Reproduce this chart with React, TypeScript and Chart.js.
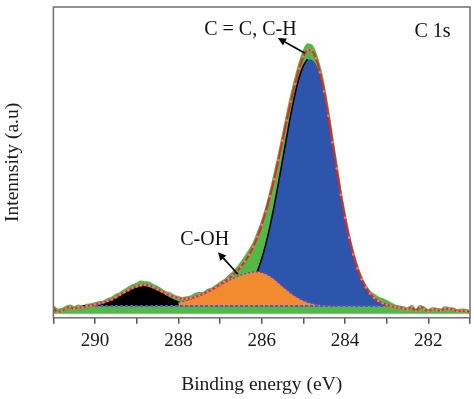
import React, { useEffect, useRef } from 'react';
import { Chart, registerables } from 'chart.js';

Chart.register(...registerables);

// ---- data (binding energy in eV, intensity in arbitrary units) ----
const GRID_START = 291.0;
const GRID_STEP = 0.1;

// red envelope / fitted curve, 291.0 -> 281.0 eV
const envelopeValues = [
  3.2, 1.8, 2.3, 3.0, 3.5, 2.8, 3.5, 3.2, 3.8, 3.9,
  4.3, 4.6, 4.9, 5.4, 5.9, 6.6, 7.4, 8.2, 8.9, 9.6,
  10.1, 10.5, 10.6, 10.3, 9.8, 9.2, 8.5, 7.8, 7.2, 6.7,
  6.3, 6.1, 6.1, 6.3, 6.7, 7.2, 7.7, 8.4, 9.0, 9.8,
  10.7, 11.6, 12.6, 13.7, 14.9, 16.4, 18.1, 20.3, 22.9, 26.1,
  29.9, 34.2, 39.1, 44.6, 50.7, 57.0, 63.5, 69.6, 75.2, 80.2,
  84.0, 86.2, 86.0, 83.5, 79.0, 72.8, 65.0, 56.5, 48.0, 39.6,
  32.2, 25.8, 20.4, 15.9, 12.4, 9.8, 7.8, 6.4, 5.4, 4.7,
  4.2, 3.7, 3.4, 3.3, 3.0, 2.8, 3.5, 2.1, 3.5, 2.9,
  2.1, 2.8, 2.5, 2.3, 3.1, 2.8, 2.6, 2.1, 2.3, 2.2,
  1.7,
];

// green raw data, 291.0 -> 281.0 eV
const rawValues = [
  3.6, 2.6, 2.8, 3.4, 3.9, 3.3, 3.9, 3.6, 4.1, 4.3,
  4.6, 5.0, 5.2, 5.9, 6.4, 7.3, 7.9, 8.8, 9.6, 10.4,
  10.9, 11.6, 11.4, 11.2, 10.4, 9.9, 9.0, 8.2, 7.8, 7.0,
  6.6, 6.3, 6.5, 6.8, 7.6, 7.9, 8.0, 8.9, 9.3, 10.2,
  11.2, 12.0, 13.2, 14.4, 15.8, 17.5, 19.4, 21.5, 23.8, 27.0,
  30.5, 34.8, 39.9, 45.5, 51.6, 58.0, 64.6, 70.8, 76.3, 81.4,
  85.4, 87.9, 87.5, 84.6, 80.0, 73.6, 65.8, 57.0, 48.4, 39.9,
  32.5, 26.0, 20.6, 16.1, 12.6, 10.1, 8.3, 7.3, 6.4, 5.9,
  5.3, 4.6, 3.9, 3.6, 3.3, 3.0, 3.7, 2.5, 3.7, 3.2,
  2.4, 3.0, 2.8, 2.6, 3.3, 3.0, 2.9, 2.4, 2.6, 2.5,
  2.0,
];

// C=C, C-H component (blue), 287.0 -> 283.0 eV
const blueStart = 287.0;
const blueValues = [
  4.1, 4.2, 4.5, 4.9, 5.5, 6.5, 7.7, 9.5, 12.0, 15.1,
  19.0, 23.8, 29.5, 36.0, 43.2, 50.7, 58.3, 65.5, 72.0, 77.3,
  81.1, 83.2, 83.0, 81.5, 78.0, 72.3, 64.6, 56.1, 47.6, 39.2,
  32.0, 25.6, 20.2, 15.7, 12.2, 9.6, 7.6, 6.3, 5.3, 4.7,
  4.2,
];
// number of blue points on the high-energy flank that carry the black outline
const blueOutlineCount = 22;

// C-OH component (orange), 288.0 -> 284.2 eV
const orangeStart = 288.0;
const orangeValues = [
  4.95, 5.25, 5.6, 6.0, 6.5, 7.0, 7.6, 8.3, 9.0, 9.7,
  10.4, 11.2, 11.9, 12.6, 13.2, 13.75, 14.2, 14.5, 14.7, 14.8,
  14.6, 14.1, 13.4, 12.4, 11.3, 10.1, 9.0, 7.9, 7.0, 6.2,
  5.5, 5.0, 4.6, 4.3, 4.15, 4.0, 3.9, 3.85, 3.8,
];

// O-C=O component (black), 290.3 -> 287.8 eV
const blackStart = 290.3;
const blackValues = [
  3.9, 3.95, 4.0, 4.2, 4.4, 4.7, 5.2, 5.7, 6.4, 7.1,
  7.9, 8.6, 9.2, 9.7, 10.0, 10.0, 9.7, 9.2, 8.6, 7.9,
  7.1, 6.4, 5.7, 5.2, 4.7, 4.4,
];

// background line
const baselineEnergy = [290.0, 283.0];
const baselineValues = [3.8, 3.8];
const BASE_LEVEL = 3.8;
const RAW_FLOOR = 1.3;

// axis
const X_MIN = 281;
const X_MAX = 291;
const Y_MIN = 0;
const Y_MAX = 100;
const xTickLabels = [290, 288, 286, 284, 282];

// annotations
const labelTexts = ['C = C, C-H', 'C-OH', 'C 1s'];
const labelEnergy = [286.27, 287.37, 281.9];
const labelLevel = [91.0, 23.5, 90.4];
const arrowFromEnergy = [284.97, 286.57];
const arrowFromLevel = [85.2, 14.0];
const arrowToEnergy = [285.61, 287.05];
const arrowToLevel = [90.0, 21.1];

const FONT = "'Liberation Serif', 'Times New Roman', serif";

function toPoints(start: number, values: number[]) {
  return values.map((v, i) => ({ x: +(start - i * GRID_STEP).toFixed(2), y: v }));
}

const overlayPlugin = {
  id: 'overlay',
  afterDatasetsDraw(chart: any) {
    const { ctx, chartArea, scales } = chart;
    const xs = scales.x;
    const ys = scales.y;
    ctx.save();
    // frame
    ctx.strokeStyle = '#6e6e6e';
    ctx.lineWidth = 1.5;
    ctx.strokeRect(chartArea.left, chartArea.top, chartArea.right - chartArea.left, chartArea.bottom - chartArea.top);
    // labels
    ctx.fillStyle = '#111';
    ctx.font = `20px ${FONT}`;
    ctx.textAlign = 'center';
    ctx.textBaseline = 'alphabetic';
    labelTexts.forEach((t, i) => {
      ctx.fillText(t, xs.getPixelForValue(labelEnergy[i]), ys.getPixelForValue(labelLevel[i]));
    });
    // arrows
    ctx.strokeStyle = '#000';
    ctx.fillStyle = '#000';
    ctx.lineWidth = 1.6;
    arrowFromEnergy.forEach((e, i) => {
      const x0 = xs.getPixelForValue(e);
      const y0 = ys.getPixelForValue(arrowFromLevel[i]);
      const x1 = xs.getPixelForValue(arrowToEnergy[i]);
      const y1 = ys.getPixelForValue(arrowToLevel[i]);
      const ang = Math.atan2(y1 - y0, x1 - x0);
      const head = 8;
      const hx = x1 - head * Math.cos(ang);
      const hy = y1 - head * Math.sin(ang);
      ctx.beginPath();
      ctx.moveTo(x0, y0);
      ctx.lineTo(hx, hy);
      ctx.stroke();
      ctx.beginPath();
      ctx.moveTo(x1, y1);
      ctx.lineTo(hx + 4 * Math.sin(ang), hy - 4 * Math.cos(ang));
      ctx.lineTo(hx - 4 * Math.sin(ang), hy + 4 * Math.cos(ang));
      ctx.closePath();
      ctx.fill();
    });
    ctx.restore();
  },
};

export default function App() {
  const canvasRef = useRef<HTMLCanvasElement | null>(null);

  useEffect(() => {
    const canvas = canvasRef.current;
    if (!canvas) return;
    const chart = new Chart(canvas, {
      type: 'line',
      data: {
        datasets: [
          {
            label: 'envelope',
            data: toPoints(GRID_START, envelopeValues),
            borderColor: '#e3262b',
            borderWidth: 2,
            pointRadius: 1.3,
            pointBackgroundColor: '#f07a80',
            pointBorderWidth: 0,
            fill: false,
            cubicInterpolationMode: 'monotone',
          },
          {
            label: 'background',
            data: baselineEnergy.map((e, i) => ({ x: e, y: baselineValues[i] })),
            borderColor: '#5b4fd6',
            borderWidth: 2,
            borderDash: [3, 2],
            pointRadius: 0,
            fill: false,
          },
          {
            label: 'C-OH',
            data: toPoints(orangeStart, orangeValues),
            borderColor: '#5b4fd6',
            borderWidth: 1.4,
            borderDash: [2, 2],
            backgroundColor: '#f28a30',
            pointRadius: 0,
            fill: { value: BASE_LEVEL },
            cubicInterpolationMode: 'monotone',
          },
          {
            label: 'O-C=O',
            data: toPoints(blackStart, blackValues),
            borderColor: '#000',
            borderWidth: 1,
            backgroundColor: '#000',
            pointRadius: 0,
            fill: { value: BASE_LEVEL },
            cubicInterpolationMode: 'monotone',
          },
          {
            label: 'C=C, C-H outline',
            data: toPoints(blueStart, blueValues.slice(0, blueOutlineCount)),
            borderWidth: 1.6,
            borderColor: '#000',
            pointRadius: 0,
            fill: false,
            cubicInterpolationMode: 'monotone',
          },
          {
            label: 'C=C, C-H',
            data: toPoints(blueStart, blueValues),
            borderWidth: 0,
            borderColor: '#2d55ab',
            backgroundColor: '#2d55ab',
            pointRadius: 0,
            fill: { value: BASE_LEVEL },
            cubicInterpolationMode: 'monotone',
          },
          {
            label: 'raw',
            data: toPoints(GRID_START, rawValues),
            borderColor: '#52b848',
            borderWidth: 2.5,
            backgroundColor: '#52b848',
            pointRadius: 0,
            fill: { value: RAW_FLOOR },
            cubicInterpolationMode: 'monotone',
          },
        ],
      },
      options: {
        animation: false,
        responsive: false,
        devicePixelRatio: 1,
        layout: { padding: { top: 7, right: 2, left: 0, bottom: 0 } },
        plugins: {
          legend: { display: false },
          tooltip: { enabled: false },
        },
        scales: {
          x: {
            type: 'linear',
            reverse: true,
            min: X_MIN,
            max: X_MAX,
            afterBuildTicks: (scale: any) => {
              const t = [];
              for (let v = X_MIN; v <= X_MAX; v++) t.push({ value: v });
              scale.ticks = t;
            },
            ticks: {
              autoSkip: false,
              maxRotation: 0,
              padding: 6,
              color: '#1a1a1a',
              font: { family: FONT, size: 19 },
              callback: (v: any) => (xTickLabels.includes(Number(v)) ? String(v) : ''),
            },
            grid: {
              drawOnChartArea: false,
              drawTicks: true,
              tickLength: 6,
              color: '#555',
              lineWidth: 1.5,
            },
            border: { display: false },
            title: {
              display: true,
              text: 'Binding energy (eV)',
              color: '#1a1a1a',
              font: { family: FONT, size: 19.5 },
              padding: { top: 15, bottom: 2 },
            },
          },
          y: {
            min: Y_MIN,
            max: Y_MAX,
            ticks: { display: false },
            grid: { display: false, drawTicks: false },
            border: { display: false },
            title: {
              display: true,
              text: 'Intennsity (a.u)',
              color: '#1a1a1a',
              font: { family: FONT, size: 19.5 },
              padding: { top: 1, bottom: 29 },
            },
          },
        },
      },
      plugins: [overlayPlugin],
    } as any);
    return () => chart.destroy();
  }, []);

  return (
    <div style={{ position: 'absolute', left: 0, top: 0, width: 474, height: 399, background: '#fff' }}>
      <canvas ref={canvasRef} width={474} height={399} style={{ display: 'block' }} />
    </div>
  );
}
